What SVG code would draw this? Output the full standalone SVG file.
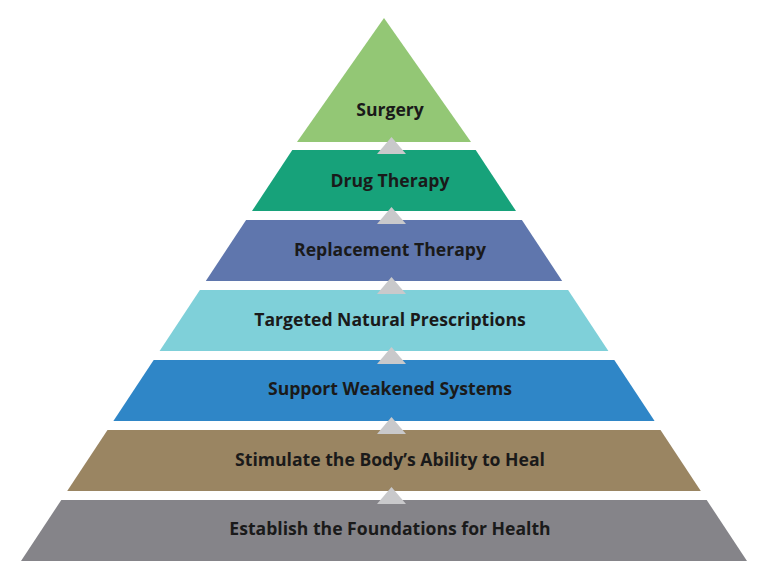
<svg xmlns="http://www.w3.org/2000/svg" width="768" height="585" viewBox="0 0 768 585">
<style>
text{font-family:"Open Sans","Liberation Sans",sans-serif;font-weight:bold;font-size:17.6px;fill:#1a1a1a;text-anchor:middle;dominant-baseline:central}
.ar{fill:#c9c9cb}
</style>
<rect width="768" height="585" fill="#fff"/>
<g id="surgery"><polygon points="384,18 471,142 297,142" fill="#93c775"/><text x="390" y="109">Surgery</text></g>
<g id="drug"><polygon points="292.3,150 475.7,150 516,211 252,211" fill="#17a27a"/><text x="390" y="180">Drug Therapy</text></g>
<g id="replacement"><polygon points="246.1,220 521.9,220 562.2,281 205.8,281" fill="#5f76ad"/><text x="390" y="249">Replacement Therapy</text></g>
<g id="targeted"><polygon points="199.9,290 568.1,290 608.4,351 159.6,351" fill="#7fd0d9"/><text x="390" y="319">Targeted Natural Prescriptions</text></g>
<g id="support"><polygon points="153.7,360 614.3,360 654.6,421 113.4,421" fill="#2f86c7"/><text x="390" y="388">Support Weakened Systems</text></g>
<g id="stimulate"><polygon points="107.5,430 660.5,430 700.8,491 67.2,491" fill="#9a8562"/><text x="390" y="459">Stimulate the Body’s Ability to Heal</text></g>
<g id="establish"><polygon points="61.3,500 706.7,500 747,561 21,561" fill="#858489"/><text x="390" y="528">Establish the Foundations for Health</text></g>
<g id="connectors">
<polygon class="ar" points="377,154 406,154 391.5,137"/>
<polygon class="ar" points="377,224 406,224 391.5,207"/>
<polygon class="ar" points="377,294 406,294 391.5,277"/>
<polygon class="ar" points="377,364 406,364 391.5,347"/>
<polygon class="ar" points="377,434 406,434 391.5,417"/>
<polygon class="ar" points="377,504 406,504 391.5,487"/>
</g>
</svg>
